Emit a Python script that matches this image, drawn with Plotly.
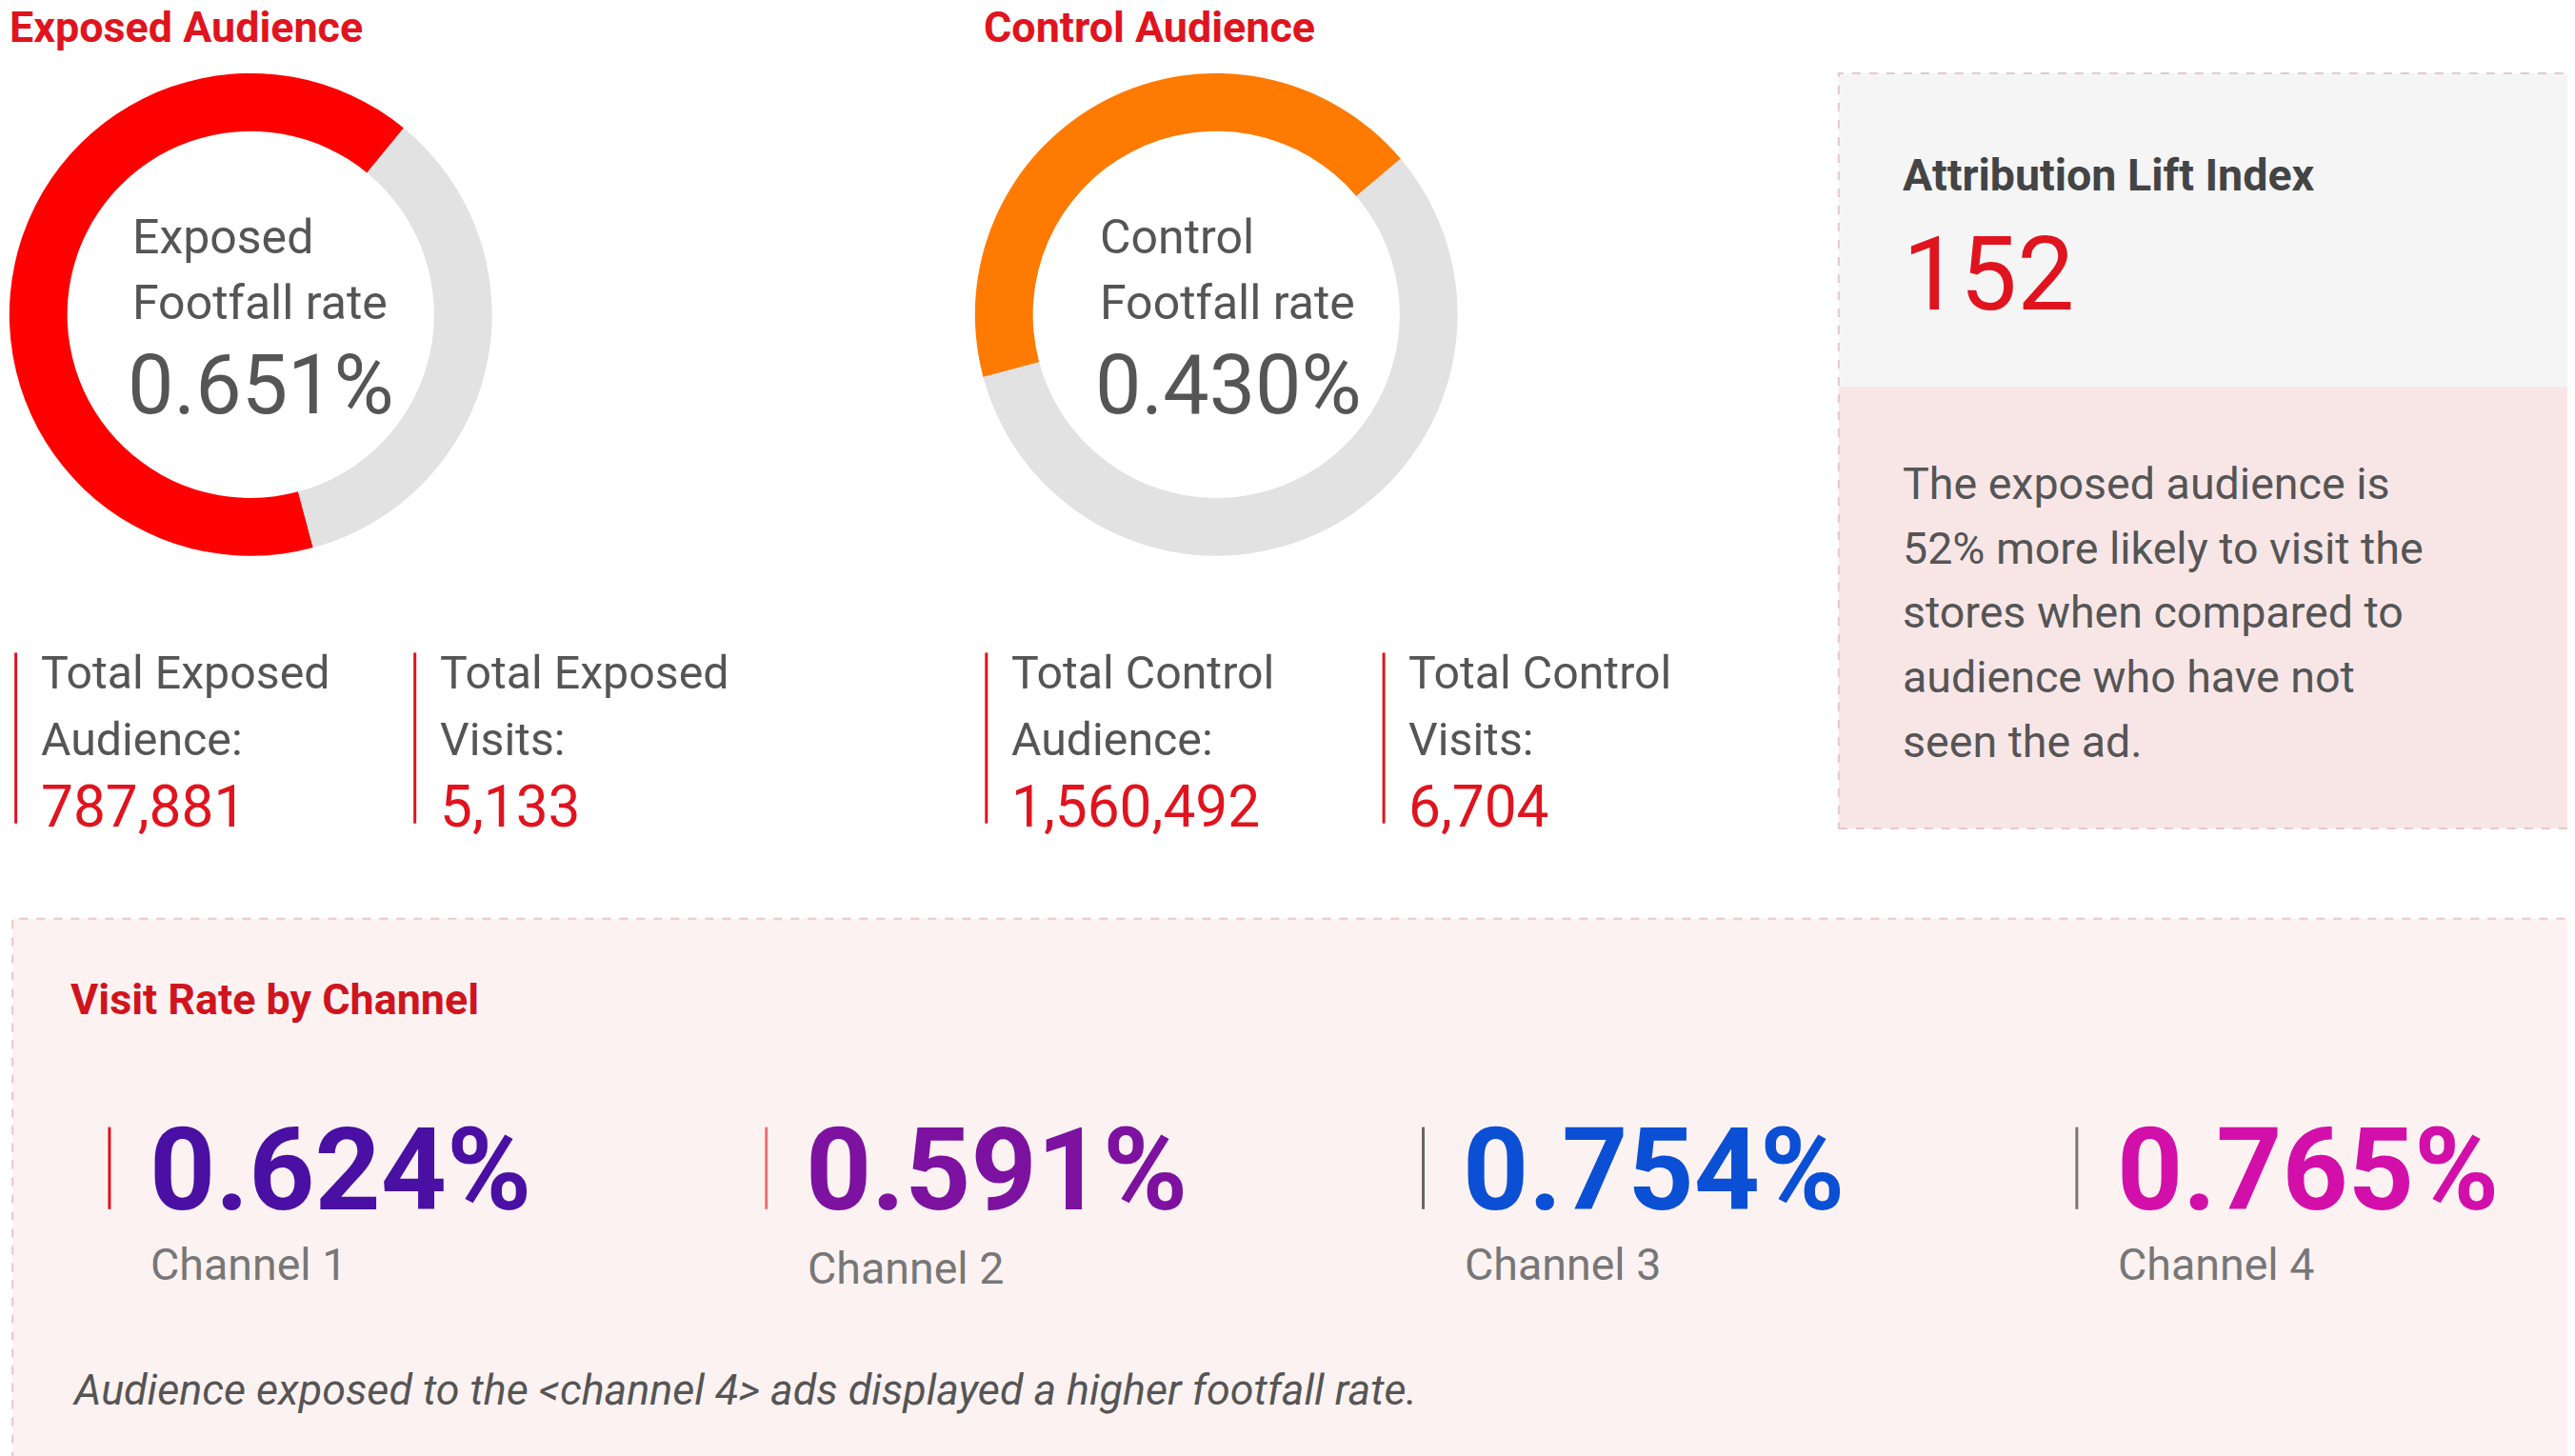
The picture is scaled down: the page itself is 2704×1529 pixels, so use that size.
import plotly.graph_objects as go

W, H = 2704, 1529
RW, RH = 1568, 887
S = W / RW

exposed_rate = 0.651
control_rate = 0.430
exposed_stats = [("Total Exposed", "Audience:", "787,881"), ("Total Exposed", "Visits:", "5,133")]
control_stats = [("Total Control", "Audience:", "1,560,492"), ("Total Control", "Visits:", "6,704")]
lift_index = 152
lift_text = ["The exposed audience is", "52% more likely to visit the", "stores when compared to",
             "audience who have not", "seen the ad."]
channels = ["Channel 1", "Channel 2", "Channel 3", "Channel 4"]
channel_rates = [0.624, 0.591, 0.754, 0.765]
channel_colors = ["#4a0fa3", "#7c129f", "#0b4fd4", "#d20fa9"]
channel_bar_colors = ["#e0141e", "#f07070", "#666666", "#777777"]

FONT = "Liberation Sans Narrow, Roboto, sans-serif"
RED = "#e0141e"
GRAY = "#555555"

def px(x): return x / RW
def py(y): return 1 - y / RH

fig = go.Figure()
ann = []
shapes = []

def text(x, y, t, size, color=GRAY, bold=False, italic=False, xanchor="left"):
    if bold: t = "<b>" + t + "</b>"
    if italic: t = "<i>" + t + "</i>"
    ann.append(dict(x=px(x), y=py(y), xref="paper", yref="paper", text=t, showarrow=False,
                    xanchor=xanchor, yanchor="middle", font=dict(family=FONT, size=size * S, color=color)))

def donut(cx, cy, r, val, color, rot):
    fig.add_trace(go.Pie(values=[val, 1 - val], hole=0.76, sort=False, direction="clockwise",
                         rotation=rot, marker=dict(colors=[color, "#e2e2e2"], line=dict(width=0)),
                         textinfo="none", hoverinfo="skip", showlegend=False,
                         domain=dict(x=[px(cx - r), px(cx + r)], y=[py(cy + r), py(cy - r)])))

donut(148, 187, 147, exposed_rate, "#ff0000", 165)
donut(736, 187, 147, control_rate, "#ff7a00", 255)

text(0, 12, "Exposed Audience", 26, RED, bold=True)
text(593, 12, "Control Audience", 26, RED, bold=True)
text(75, 140, "Exposed", 29)
text(75, 180, "Footfall rate", 29)
text(72, 230, f"{exposed_rate:.3f}%", 50)
text(664, 140, "Control", 29)
text(664, 180, "Footfall rate", 29)
text(661, 230, f"{control_rate:.3f}%", 50)

def stats(x0s, data):
    for x, (a, b, v) in zip(x0s, data):
        shapes.append(dict(type="line", xref="paper", yref="paper", x0=px(x - 14), x1=px(x - 14),
                           y0=py(393), y1=py(497), line=dict(color=RED, width=3)))
        text(x, 405, a, 28)
        text(x, 446, b, 28)
        text(x, 487, v, 35, RED)

stats([19, 262], exposed_stats)
stats([610, 852], control_stats)

# right box
shapes.append(dict(type="rect", xref="paper", yref="paper", x0=px(1115), x1=px(1565), y0=py(231), y1=py(40),
                   fillcolor="#f5f5f5", line=dict(width=0), layer="below"))
shapes.append(dict(type="rect", xref="paper", yref="paper", x0=px(1115), x1=px(1565), y0=py(500), y1=py(231),
                   fillcolor="#f8e6e7", line=dict(width=0), layer="below"))
shapes.append(dict(type="rect", xref="paper", yref="paper", x0=px(1115), x1=px(1565), y0=py(500), y1=py(40),
                   line=dict(color="#e6c8cc", width=2, dash="dash")))
text(1153, 102, "Attribution Lift Index", 27, "#444444", bold=True)
text(1153, 163, str(lift_index), 62, RED)
for i, l in enumerate(lift_text):
    text(1153, 290 + i * 39.3, l, 27)

# bottom box
shapes.append(dict(type="rect", xref="paper", yref="paper", x0=px(3), x1=px(1565), y0=py(885), y1=py(555),
                   fillcolor="#fdf2f2", line=dict(color="#f0c4c8", width=2, dash="dash"), layer="below"))
text(37, 604, "Visit Rate by Channel", 26, "#d0141e", bold=True)
bx = [62, 462, 862, 1260]
ly = [766, 768, 766, 766]
for x, ch, r, c, bc, yy in zip(bx, channels, channel_rates, channel_colors, channel_bar_colors, ly):
    shapes.append(dict(type="line", xref="paper", yref="paper", x0=px(x), x1=px(x), y0=py(732), y1=py(682),
                       line=dict(color=bc, width=3)))
    text(x + 23, 708, f"{r:.3f}%", 70, c, bold=True)
    text(x + 24, yy, ch, 27, "#777777")
text(38, 842, "Audience exposed to the &lt;channel 4&gt; ads displayed a higher footfall rate.", 26, GRAY, italic=True)

fig.update_layout(width=W, height=H, margin=dict(l=0, r=0, t=0, b=0), paper_bgcolor="white",
                  plot_bgcolor="white", annotations=ann, shapes=shapes, showlegend=False)
fig.write_html("out.html")
